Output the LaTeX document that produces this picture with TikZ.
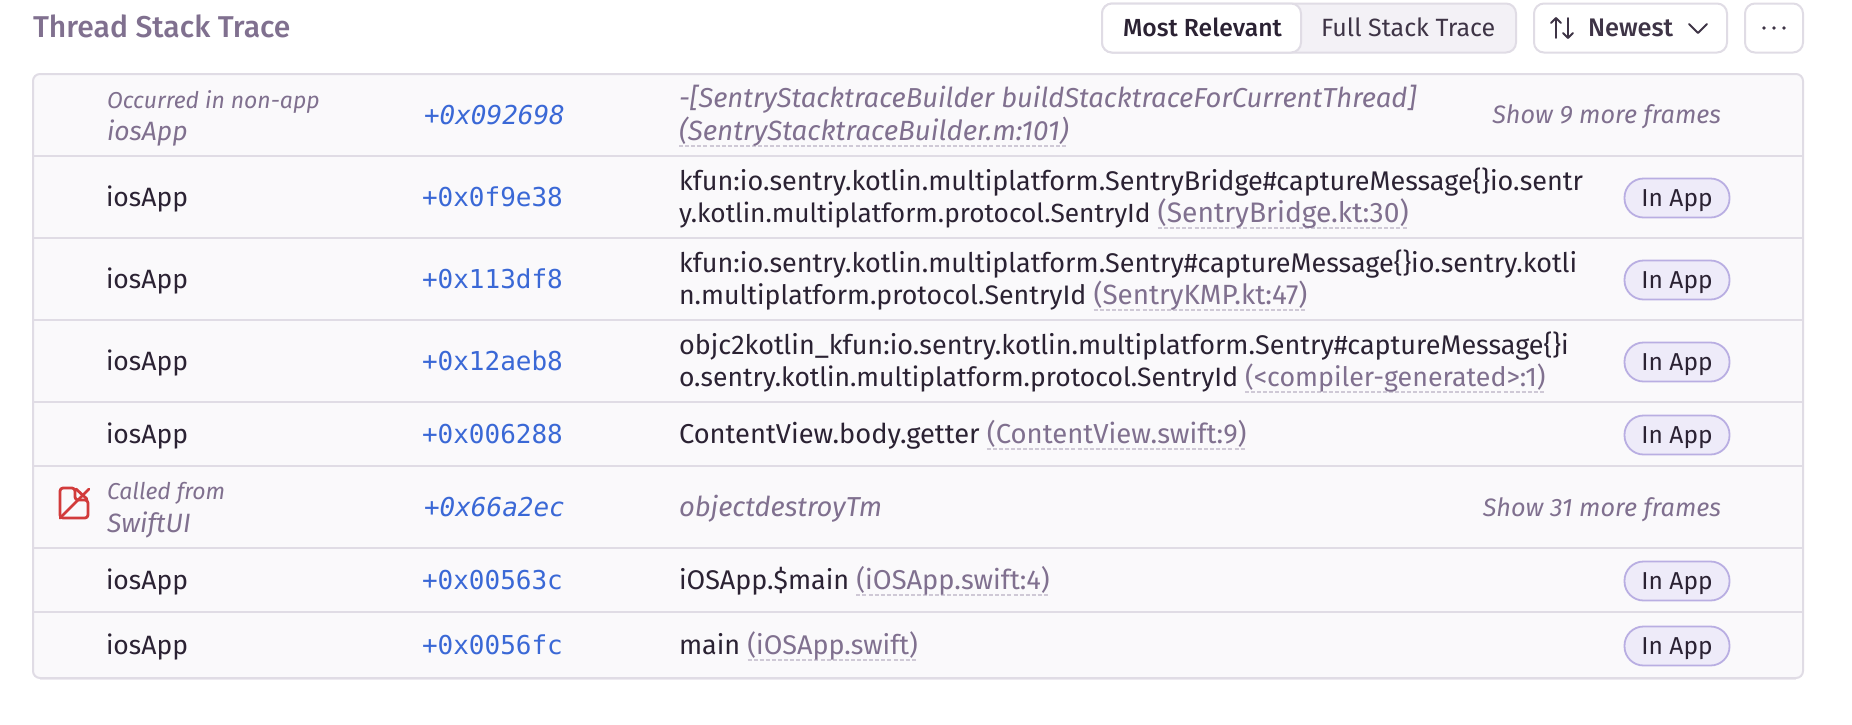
\documentclass[tikz,border=0pt]{standalone}
\usepackage{fontspec}
\setmainfont{Fira Sans}[BoldFont={Fira Sans Medium},BoldItalicFont={Fira Sans Medium Italic}]
\setmonofont{DejaVu Sans Mono}
\usetikzlibrary{calc}
\definecolor{ink}{HTML}{2B2233}
\definecolor{ink2}{HTML}{3E3446}
\definecolor{muted}{HTML}{80708F}
\definecolor{rulec}{HTML}{E0DCE5}
\definecolor{panel}{HTML}{FAF9FB}
\definecolor{addr}{HTML}{3A68D6}
\definecolor{badgef}{HTML}{EEEBF9}
\definecolor{badgeb}{HTML}{B9AEE2}
\definecolor{segf}{HTML}{F3F1F6}
\definecolor{redc}{HTML}{D23B3B}
\definecolor{dashc}{HTML}{CFC9D6}
\newcommand\dul[1]{\leavevmode\setbox0\hbox{#1}\rlap{\raisebox{-6.5pt}{\color{dashc}\hbox to \wd0{\xleaders\hbox{\rule{4pt}{1.4pt}\hskip 2pt}\hfill}}}\box0 }
\newcommand\fsz[1]{\fontsize{#1}{30}\selectfont}
\newcommand\loc[2]{{\fsz{#1}\textcolor{muted}{\dul{#2}}}}
\tikzset{
  x=1pt,y=-1pt,
  txt/.style={anchor=base west,inner sep=0pt,outer sep=0pt,font=\fontsize{27}{30}\selectfont,text=ink},
  lib/.style={txt,font=\fontsize{26.5}{30}\selectfont},
  sub/.style={txt,font=\fontsize{23}{26}\selectfont\itshape,text=muted},
  libi/.style={txt,font=\fontsize{26.5}{30}\selectfont\itshape,text=muted},
  adr/.style={txt,font=\fontsize{26}{30}\ttfamily\selectfont,text=addr},
  adri/.style={adr,font=\fontsize{26}{30}\ttfamily\itshape\selectfont},
  fn/.style={txt},
  fni/.style={txt,font=\fontsize{27.4}{30}\selectfont\itshape,text=muted},
  more/.style={txt,font=\fontsize{25.2}{26}\selectfont\itshape,text=muted,anchor=base east},
  badge/.style={draw=badgeb,fill=badgef,line width=1.8pt,rounded corners=19pt,minimum width=105pt,minimum height=39pt,inner sep=0pt,anchor=center,text height=16pt,text depth=0pt,font=\fontsize{24.5}{26}\selectfont,text=ink},
  sep/.style={draw=rulec,line width=2pt},
  btn/.style={draw=rulec,fill=white,line width=2pt,rounded corners=10pt},
  lbl/.style={txt,font=\fontsize{25}{26}\selectfont},
  lblb/.style={txt,font=\fontsize{24.7}{26}\selectfont\bfseries},
  glyph/.style={draw=ink2,line width=1.9pt,line cap=round,line join=round},
  redline/.style={redc,line width=2.8pt,line join=round,line cap=round},
}
\begin{document}
\begin{tikzpicture}
\useasboundingbox (0,0) rectangle (1852,724);
\fill[white] (0,0) rectangle (1852,724);

\node[txt,font=\fontsize{30.1}{30}\selectfont\bfseries,text=muted] (title) at (33,37) {Thread Stack Trace};

% controls
\draw[btn,fill=segf] (1102,3.5) rectangle (1516,52.5);
\draw[btn] (1102,3.5) rectangle (1301,52.5);
\node[lblb] (mr) at (1123,36) {Most Relevant};
\node[lbl,text=ink2] (fs) at (1321,36) {Full Stack Trace};
\draw[btn] (1534,3.5) rectangle (1727,52.5);
\node[lblb,font=\fontsize{25.4}{26}\selectfont\bfseries,text=ink2] (nw) at (1588,36) {Newest};
\draw[glyph] (1556,38) -- (1556,18) (1551,23) -- (1556,18) -- (1561,23);
\draw[glyph] (1568,18) -- (1568,38) (1563,33) -- (1568,38) -- (1573,33);
\draw[glyph] (1689,24) -- (1698,33) -- (1707,24);
\draw[btn] (1745,3.5) rectangle (1803,52.5);
\fill[ink2] (1764,28) circle (1.8) (1774,28) circle (1.8) (1784,28) circle (1.8);

% panel
\fill[rulec!50] (40,76) rectangle (1796,680);
\draw[draw=rulec,fill=panel,line width=2pt,rounded corners=7pt] (33,74) rectangle (1803,678);
\draw[sep] (33,156) -- (1803,156);
\draw[sep] (33,238) -- (1803,238);
\draw[sep] (33,320) -- (1803,320);
\draw[sep] (33,402) -- (1803,402);
\draw[sep] (33,466) -- (1803,466);
\draw[sep] (33,548) -- (1803,548);
\draw[sep] (33,612) -- (1803,612);

% row 1
\node[sub] (r1s) at (107,108) {Occurred in non-app};
\node[libi] (r1l) at (107,140) {iosApp};
\node[adri] (r1a) at (424,124) {+0x092698};
\node[fni] (r1f) at (679,107) {-[SentryStacktraceBuilder buildStacktraceForCurrentThread]};
\node[fni,font=\fontsize{27.8}{30}\selectfont\itshape] (r1g) at (679,140) {\dul{(SentryStacktraceBuilder.m:101)}};
\node[more] (r1m) at (1721,123) {Show 9 more frames};

% row 2
\node[lib] (r2l) at (106,206) {iosApp};
\node[adr] (r2a) at (422,206) {+0x0f9e38};
\node[fn] (r2f) at (679,190) {kfun:io.sentry.kotlin.multiplatform.SentryBridge\#captureMessage\{\}io.sentr};
\node[fn] (r2g) at (679,222) {\fsz{26.3}y.kotlin.multiplatform.protocol.SentryId \loc{28.2}{(SentryBridge.kt:30)}};
\node[badge] (r2b) at (1677,198) {In App};

% row 3
\node[lib] (r3l) at (106,288) {iosApp};
\node[adr] (r3a) at (422,288) {+0x113df8};
\node[fn] (r3f) at (679,272) {kfun:io.sentry.kotlin.multiplatform.Sentry\#captureMessage\{\}io.sentry.kotli};
\node[fn] (r3g) at (679,304) {\fsz{26.75}n.multiplatform.protocol.SentryId \loc{27.8}{(SentryKMP.kt:47)}};
\node[badge] (r3b) at (1677,280) {In App};

% row 4
\node[lib] (r4l) at (106,370) {iosApp};
\node[adr] (r4a) at (422,370) {+0x12aeb8};
\node[fn] (r4f) at (679,354) {objc2kotlin\_kfun:io.sentry.kotlin.multiplatform.Sentry\#captureMessage\{\}i};
\node[fn] (r4g) at (679,386) {\fsz{26.5}o.sentry.kotlin.multiplatform.protocol.SentryId \loc{26.8}{(<compiler-generated>:1)}};
\node[badge] (r4b) at (1677,362) {In App};

% row 5
\node[lib] (r5l) at (106,443) {iosApp};
\node[adr] (r5a) at (422,443) {+0x006288};
\node[fn] (r5f) at (679,443) {\fsz{27.3}ContentView.body.getter \loc{27.5}{(ContentView.swift:9)}};
\node[badge] (r5b) at (1677,435) {In App};

% row 6
\draw[redline,rounded corners=3pt] (75,488) -- (60,488) -- (60,518) -- (88,518) -- (88,500) -- (75,500) -- cycle;
\draw[redline] (60,518) -- (89,489);
\draw[redline] (76,489) -- (87,499);
\node[sub] (r6s) at (107,499) {Called from};
\node[libi] (r6l) at (107,532) {SwiftUI};
\node[adri] (r6a) at (424,516) {+0x66a2ec};
\node[fni] (r6f) at (679,516) {objectdestroyTm};
\node[more] (r6m) at (1721,516) {Show 31 more frames};

% row 7
\node[lib] (r7l) at (106,589) {iosApp};
\node[adr] (r7a) at (422,589) {+0x00563c};
\node[fn] (r7f) at (679,589) {iOSApp.\$main \loc{27.3}{(iOSApp.swift:4)}};
\node[badge] (r7b) at (1677,581) {In App};

% row 8
\node[lib] (r8l) at (106,654) {iosApp};
\node[adr] (r8a) at (422,654) {+0x0056fc};
\node[fn] (r8f) at (679,654) {main \loc{27}{(iOSApp.swift)}};
\node[badge] (r8b) at (1677,646) {In App};
\end{tikzpicture}
\end{document}
